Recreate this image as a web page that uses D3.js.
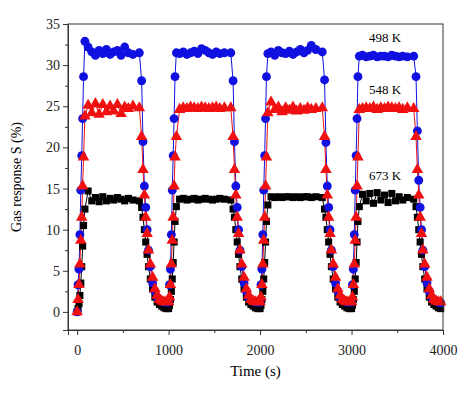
<!DOCTYPE html>
<html><head><meta charset="utf-8">
<script src="https://cdn.jsdelivr.net/npm/d3@7"></script>
<style>body{margin:0;background:#fff}text{font-family:"Liberation Serif","DejaVu Serif",serif}</style>
</head><body><svg id="c" width="474" height="400"></svg>
<script>
const cycleStarts=[0,1000,2000,3000];
const relTimes=[0,10,20,30,40,50,60,70,85,120,160,200,240,280,320,360,400,440,480,520,560,610,680,705,720,735,750,765,780,800,825,850,875,900,925,950,975];
const blue498=[
[0,3.3,5.2,9.4,14.8,19.0,23.5,28.6,32.9,32.2,31.6,31.2,31.8,31.4,31.9,31.3,31.6,31.8,31.2,32.2,31.5,31.3,31.5,28.1,20.7,15.3,12.7,10.0,7.5,5.5,3.5,2.5,1.8,1.5,1.3,1.2,1.2],
[1.2,3.3,5.2,9.4,14.8,19.0,23.5,28.6,31.5,31.4,31.6,31.3,31.5,31.7,31.4,32.0,31.8,31.5,31.3,31.6,31.4,31.5,31.5,28.1,20.7,15.3,12.7,10.0,7.5,5.5,3.5,2.5,1.8,1.5,1.3,1.2,1.2],
[1.2,3.3,5.2,9.4,14.8,19.0,23.5,28.6,31.4,31.6,31.2,31.8,31.5,31.4,31.7,31.3,31.6,31.9,31.5,31.8,32.4,31.9,31.6,28.2,20.6,15.3,12.7,10.0,7.5,5.5,3.5,2.5,1.8,1.5,1.3,1.2,1.2],
[1.2,3.3,5.2,9.4,14.8,19.0,23.5,28.6,31.1,31.2,31.0,31.1,31.2,31.0,31.1,31.1,31.0,31.2,31.1,31.0,31.1,31.0,31.1,28.6,22.0,16.0,12.7,10.0,7.5,5.5,3.5,2.5,1.8,1.5,1.3,1.2,1.1]];
const red548=[
[0,1.5,3.3,5.8,8.7,11.5,15.3,18.8,23.8,25.1,24.2,25.3,24.0,25.2,24.3,25.0,24.4,25.2,24.1,24.9,24.7,25.0,24.8,21.3,17.3,14.2,11.5,9.5,7.5,5.8,4.2,2.8,2.0,1.5,1.3,1.2,1.2],
[1.2,1.8,3.3,5.8,8.7,11.5,15.3,18.8,21.3,24.6,24.8,24.7,24.9,24.8,24.7,24.9,24.8,24.7,24.8,24.9,24.7,24.8,24.8,21.3,17.3,14.2,11.5,9.5,7.5,5.8,4.2,2.8,2.0,1.5,1.3,1.2,1.2],
[1.2,1.8,3.3,5.8,8.7,11.5,15.3,18.8,24.2,25.5,24.6,24.9,24.3,24.8,24.5,24.9,24.4,24.7,24.5,24.8,24.6,24.7,24.8,21.3,17.3,14.2,11.5,9.5,7.5,5.8,4.2,2.8,2.0,1.5,1.3,1.2,1.2],
[1.2,1.8,3.3,5.8,8.7,11.5,15.3,18.8,24.6,24.7,24.8,24.7,24.9,24.6,24.8,24.7,24.9,24.8,24.7,24.8,24.6,24.8,24.7,21.3,17.3,14.2,11.5,9.5,7.5,5.8,4.2,2.8,2.0,1.5,1.3,1.2,1.2]];
const black673=[
[0,0.4,1.0,2.0,3.5,5.5,8.0,10.5,12.5,14.7,13.5,13.9,13.4,14.0,13.5,13.8,13.6,13.9,13.7,13.5,13.8,13.6,13.5,12.7,11.5,10.0,8.5,7.0,5.5,4.0,2.8,1.8,1.2,0.9,0.7,0.5,0.4],
[0.4,0.8,1.5,2.5,4.0,6.0,8.5,11.0,12.8,13.7,13.8,13.6,13.7,13.8,13.6,13.7,13.8,13.7,13.6,13.7,13.8,13.7,13.6,12.5,11.5,10.0,8.5,7.0,5.5,4.0,2.8,1.8,1.2,0.9,0.7,0.5,0.4],
[0.4,0.8,1.5,2.5,4.0,6.0,8.5,11.0,13.0,14.0,13.9,14.0,13.9,14.0,14.0,13.9,14.0,13.9,14.0,14.0,13.9,14.0,13.9,12.5,11.5,10.0,8.5,7.0,5.5,4.0,2.8,1.8,1.2,0.9,0.7,0.5,0.4],
[0.4,0.8,1.5,2.5,4.0,6.0,8.5,11.0,12.8,14.3,13.5,14.4,13.2,14.5,13.6,14.2,13.3,14.4,13.5,14.0,13.6,13.9,13.7,12.8,11.5,10.0,8.5,7.0,5.5,4.0,2.8,1.8,1.2,0.9,0.7,0.5,0.4]];
const xTicks=[0,1000,2000,3000,4000];
const yTicks=[0,5,10,15,20,25,30,35];
const seriesLabels=["498 K","548 K","673 K"];

const svg=d3.select("#c");
const L=68,R=443,T=24,B=330;
const x=d3.scaleLinear().domain([-100,4000]).range([L,R]);
const y=d3.scaleLinear().domain([-2.2,35]).range([B,T]);
const toPts=arr=>arr.flatMap((cyc,i)=>cyc.map((v,j)=>[cycleStarts[i]+relTimes[j],v]));
const series=[
 {d:toPts(black673),c:"#000",sym:d3.symbolSquare,s:50},
 {d:toPts(blue498),c:"#1010e0",sym:d3.symbolCircle,s:62},
 {d:toPts(red548),c:"#f01010",sym:d3.symbolTriangle,s:58}];
const line=d3.line().x(p=>x(p[0])).y(p=>y(p[1]));
series.forEach(s=>{
 svg.append("path").attr("d",line(s.d)).attr("fill","none").attr("stroke",s.c).attr("stroke-width",1);
});
series.forEach(s=>{
 svg.append("g").selectAll("path").data(s.d).join("path")
  .attr("d",d3.symbol(s.sym,s.s)).attr("transform",p=>`translate(${x(p[0])},${y(p[1])})`).attr("fill",s.c);
});
svg.append("rect").attr("x",L).attr("y",T).attr("width",R-L).attr("height",B-T).attr("fill","none").attr("stroke","#333").attr("stroke-width",1);
const xa=svg.append("g").attr("transform",`translate(0,${B})`).call(d3.axisBottom(x).tickValues(xTicks).tickFormat(d3.format("d")).tickSize(5));
svg.append("g").attr("transform",`translate(0,${B})`).call(d3.axisBottom(x).tickValues([500,1500,2500,3500]).tickFormat("").tickSize(3)).select(".domain").remove();
const ya=svg.append("g").attr("transform",`translate(${L},0)`).call(d3.axisLeft(y).tickValues(yTicks).tickSize(5));
svg.append("g").attr("transform",`translate(${L},0)`).call(d3.axisLeft(y).tickValues([2.5,7.5,12.5,17.5,22.5,27.5,32.5]).tickFormat("").tickSize(3)).select(".domain").remove();
svg.selectAll(".domain").attr("stroke","#333");
svg.selectAll(".tick line").attr("stroke","#333");
svg.selectAll(".tick text").attr("font-size",14).attr("fill","#222").style("font-family","Liberation Serif");
xa.selectAll(".tick text").attr("dy","1.2em");
svg.append("text").attr("x",(L+R)/2).attr("y",376).attr("text-anchor","middle").attr("font-size",15).text("Time (s)");
svg.append("text").attr("transform",`translate(21,${(T+B)/2}) rotate(-90)`).attr("text-anchor","middle").attr("font-size",14).text("Gas response S (%)");
const labY=[42,94,180];
seriesLabels.forEach((t,i)=>svg.append("text").attr("x",385).attr("y",labY[i]).attr("text-anchor","middle").attr("font-size",13).text(t));
</script></body></html>
